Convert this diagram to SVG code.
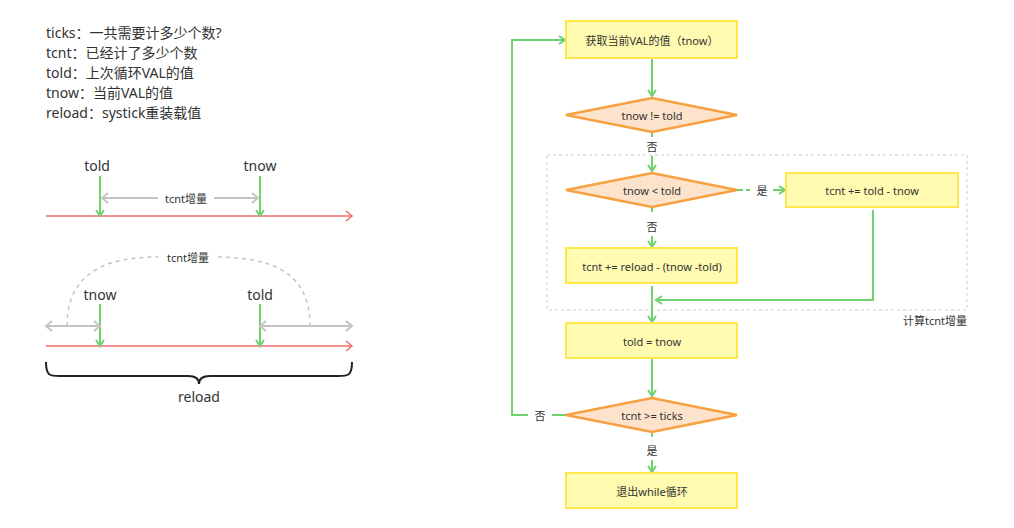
<svg xmlns="http://www.w3.org/2000/svg" width="1014" height="528" viewBox="0 0 1014 528">
<style>
text{font-family:"Noto Sans","Noto Sans CJK SC",sans-serif;fill:#333}
.t{font-size:14px}
.s{font-size:11px;text-anchor:middle;dominant-baseline:central}
.m{font-size:14px;text-anchor:middle}
.box{fill:#fffbb0;stroke:#ffe84d;stroke-width:2}
.dia{fill:#fde3cc;stroke:#f7a040;stroke-width:2.5}
.g{stroke:#6fd26f;stroke-width:2;fill:none}
.gy{stroke:#c4c4c4;stroke-width:2;fill:none}
.r{stroke:#f26b6b;stroke-width:1.5;fill:none}
</style>
<defs>
<marker id="ag" markerWidth="10" markerHeight="10" refX="8" refY="5" orient="auto" markerUnits="userSpaceOnUse"><path d="M2,1 L8,5 L2,9" fill="none" stroke="#6fd26f" stroke-width="2"/></marker>
<marker id="ar" markerWidth="10" markerHeight="12" refX="8" refY="6" orient="auto" markerUnits="userSpaceOnUse"><path d="M2,1 L8,6 L2,11" fill="none" stroke="#f26b6b" stroke-width="1.5"/></marker>
<marker id="agy" markerWidth="10" markerHeight="12" refX="8" refY="6" orient="auto-start-reverse" markerUnits="userSpaceOnUse"><path d="M2,1 L8,6 L2,11" fill="none" stroke="#c4c4c4" stroke-width="2"/></marker>
</defs>
<g id="legend">
<text class="t" x="46" y="38">ticks：一共需要计多少个数?</text>
<text class="t" x="46" y="58">tcnt：已经计了多少个数</text>
<text class="t" x="46" y="78">told：上次循环VAL的值</text>
<text class="t" x="46" y="98">tnow：当前VAL的值</text>
<text class="t" x="46" y="118">reload：systick重装载值</text>
</g>
<g id="timeline1">
<line class="r" x1="46" y1="216" x2="352" y2="216" marker-end="url(#ar)"/>
<line class="g" x1="100" y1="176" x2="100" y2="216" marker-end="url(#ag)"/>
<line class="g" x1="260" y1="176" x2="260" y2="216" marker-end="url(#ag)"/>
<text class="m" x="97" y="171">told</text>
<text class="m" x="260" y="171">tnow</text>
<line class="gy" x1="102" y1="198" x2="158" y2="198" marker-start="url(#agy)"/>
<line class="gy" x1="214" y1="198" x2="258" y2="198" marker-end="url(#agy)"/>
<text class="s" x="186" y="198">tcnt增量</text>
</g>
<g id="timeline2">
<line class="r" x1="46" y1="346" x2="352" y2="346" marker-end="url(#ar)"/>
<line class="g" x1="100" y1="304" x2="100" y2="346" marker-end="url(#ag)"/>
<line class="g" x1="260" y1="304" x2="260" y2="346" marker-end="url(#ag)"/>
<text class="m" x="100" y="300">tnow</text>
<text class="m" x="260" y="300">told</text>
<line class="gy" x1="46" y1="326" x2="100" y2="326" marker-start="url(#agy)" marker-end="url(#agy)"/>
<line class="gy" x1="260" y1="326" x2="352" y2="326" marker-start="url(#agy)" marker-end="url(#agy)"/>
<path d="M67,326 C67,270 110,257 158,257 M218,257 C266,258 310,268 310,326" fill="none" stroke="#c4c4c4" stroke-width="1.5" stroke-dasharray="4,4"/>
<text class="s" x="188" y="257">tcnt增量</text>
<path d="M46,362 C46,376 50,376 60,376 L188,376 C195,376 199,378 199,384 C199,378 203,376 210,376 L338,376 C348,376 352,376 352,362" fill="none" stroke="#222" stroke-width="2"/>
<text class="m" x="199" y="402">reload</text>
</g>
<g id="group-box">
<rect x="547" y="155" width="420" height="155" fill="none" stroke="#ccc" stroke-dasharray="3,3"/>
<text x="967" y="325" text-anchor="end" style="font-size:11px">计算tcnt增量</text>
</g>
<g id="connectors">
<line class="g" x1="652" y1="58" x2="652" y2="96" marker-end="url(#ag)"/>
<line class="g" x1="652" y1="133" x2="652" y2="139" stroke-dasharray="4,3"/>
<text class="s" x="652" y="146">否</text>
<line class="g" x1="652" y1="156" x2="652" y2="171" marker-end="url(#ag)"/>
<line class="g" x1="737" y1="190" x2="750" y2="190" stroke-dasharray="6,3"/>
<text class="s" x="762" y="190">是</text>
<line class="g" x1="773" y1="190" x2="785" y2="190" marker-end="url(#ag)"/>
<line class="g" x1="652" y1="208" x2="652" y2="214" stroke-dasharray="4,3"/>
<text class="s" x="652" y="226">否</text>
<line class="g" x1="652" y1="236" x2="652" y2="247" marker-end="url(#ag)"/>
<polyline class="g" points="873,210 873,300 656,300" marker-end="url(#ag)"/>
<line class="g" x1="652" y1="286" x2="652" y2="322" marker-end="url(#ag)"/>
<line class="g" x1="652" y1="358" x2="652" y2="396" marker-end="url(#ag)"/>
<line class="g" x1="566" y1="415" x2="552" y2="415"/>
<text class="s" x="540" y="415">否</text>
<polyline class="g" points="528,415 512,415 512,40 565,40" marker-end="url(#ag)"/>
<line class="g" x1="652" y1="433" x2="652" y2="440" stroke-dasharray="4,3"/>
<text class="s" x="652" y="450">是</text>
<line class="g" x1="652" y1="460" x2="652" y2="472" marker-end="url(#ag)"/>
</g>
<g id="n1"><rect class="box" x="566" y="21" width="171" height="37"/><text class="s" x="652" y="40">获取当前VAL的值（tnow）</text></g>
<g id="n2"><polygon class="dia" points="566,115 652,98 737,115 652,132"/><text class="s" x="652" y="115">tnow != told</text></g>
<g id="n3"><polygon class="dia" points="566,190 652,173 737,190 652,207"/><text class="s" x="652" y="190">tnow &lt; told</text></g>
<g id="n4"><rect class="box" x="786" y="173" width="172" height="34"/><text class="s" x="872" y="190">tcnt += told - tnow</text></g>
<g id="n5"><rect class="box" x="566" y="248" width="171" height="35"/><text class="s" x="652" y="266">tcnt += reload - (tnow -told)</text></g>
<g id="n6"><rect class="box" x="566" y="323" width="171" height="35"/><text class="s" x="652" y="341">told = tnow</text></g>
<g id="n7"><polygon class="dia" points="566,415 652,398 737,415 652,432"/><text class="s" x="652" y="415">tcnt &gt;= ticks</text></g>
<g id="n8"><rect class="box" x="566" y="473" width="171" height="35"/><text class="s" x="652" y="491">退出while循环</text></g>
</svg>
